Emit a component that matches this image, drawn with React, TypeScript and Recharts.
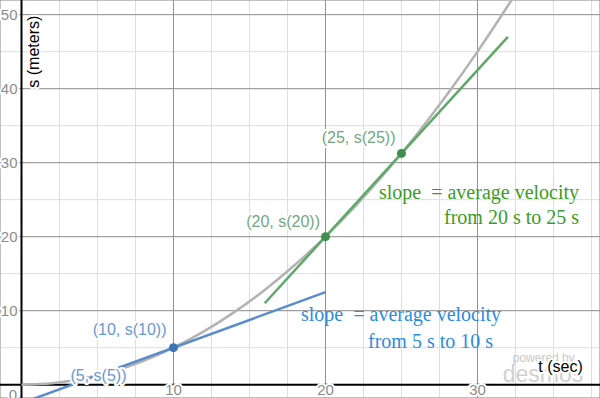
import React from "react";
import {
  ComposedChart,
  Line,
  Scatter,
  XAxis,
  YAxis,
  CartesianGrid,
  ReferenceLine,
  ReferenceDot,
} from "recharts";

// axes / grid
const X_DOMAIN: [number, number] = [-1.414, 38.06];
const Y_DOMAIN: [number, number] = [-1.8, 51.98];
const majorX = [10, 20, 30];
const majorY = [10, 20, 30, 40, 50];
const minorX = [2.5, 5, 7.5, 10, 12.5, 15, 17.5, 20, 22.5, 25, 27.5, 30, 32.5, 35, 37.5];
const minorY = [2.5, 5, 7.5, 10, 12.5, 15, 17.5, 20, 22.5, 25, 27.5, 30, 32.5, 35, 37.5, 40, 42.5, 45, 47.5, 50];

// position curve s(t)
const curveT = [0, 2, 4, 6, 8, 10, 12, 14, 16, 18, 20, 22, 24, 26, 28, 30, 32, 34];
const curveS = [0, 0.2, 0.8, 1.8, 3.2, 5, 7.2, 9.8, 12.8, 16.2, 20, 24.2, 28.8, 33.8, 39.2, 45, 51.2, 57.8];

// secant lines
const blueT = [0, 20];
const blueS = [-2.5, 12.5];
const greenT = [16, 32];
const greenS = [11, 47];

// labelled points
const pointT = [5, 10, 20, 25];
const pointS = [1.25, 5, 20, 31.25];
const pointNames = ["(5, s(5))", "(10, s(10))", "(20, s(20))", "(25, s(25))"];
const blueDotT = [10];
const blueDotS = [5];
const greenDotT = [20, 25];
const greenDotS = [20, 31.25];

const curveData = curveT.map((t, i) => ({ t, s: curveS[i] }));
const blueData = blueT.map((t, i) => ({ t, s: blueS[i] }));
const greenData = greenT.map((t, i) => ({ t, s: greenS[i] }));
const blueDots = blueDotT.map((t, i) => ({ t, s: blueDotS[i] }));
const greenDots = greenDotT.map((t, i) => ({ t, s: greenDotS[i] }));

const SANS = "'Liberation Sans', Arial, sans-serif";
const SERIF = "'Liberation Serif', 'Times New Roman', serif";
const halo = {
  stroke: "#fff",
  strokeWidth: 4,
  strokeLinejoin: "round" as const,
  paintOrder: "stroke" as const,
};

const BLUE_LABEL = "#6898d3";
const GREEN_LABEL = "#72a784";
const labelLook = [
  { anchor: "middle", dx: 1, dy: 6, color: BLUE_LABEL },
  { anchor: "end", dx: -7, dy: -13, color: BLUE_LABEL },
  { anchor: "end", dx: -5.5, dy: -10, color: GREEN_LABEL },
  { anchor: "end", dx: -6, dy: -10.5, color: GREEN_LABEL },
];

const dotShape = (color: string) => (p: any) => (
  <circle cx={p.cx} cy={p.cy} r={4.5} fill={color} />
);

export default function App() {
  return (
    <div style={{ position: "absolute", left: 0, top: 0, width: 600, height: 398, background: "#fff" }}>
      <ComposedChart width={600} height={398} margin={{ top: 0, right: 0, bottom: 0, left: 0 }}>
        <XAxis xAxisId="g" type="number" dataKey="t" domain={X_DOMAIN} ticks={minorX} hide allowDataOverflow />
        <YAxis yAxisId="g" type="number" dataKey="s" domain={Y_DOMAIN} ticks={minorY} hide allowDataOverflow />
        <XAxis type="number" dataKey="t" domain={X_DOMAIN} ticks={majorX} hide allowDataOverflow />
        <YAxis type="number" dataKey="s" domain={Y_DOMAIN} ticks={majorY} hide allowDataOverflow />

        <CartesianGrid xAxisId="g" yAxisId="g" stroke="#dedede" strokeWidth={1} />
        <CartesianGrid stroke="#929292" strokeWidth={1} />
        <ReferenceLine x={0} stroke="#000" strokeWidth={2} />
        <ReferenceLine y={0} stroke="#000" strokeWidth={2} />

        {/* watermark */}
        <ReferenceDot x={32.32} y={3.0} r={0} shape={(p: any) => (
          <text x={p.cx} y={p.cy} fontFamily={SANS} fontSize={12} fill="#c8c8c8">powered by</text>
        )} />
        <ReferenceDot x={31.66} y={0.4} r={0} shape={(p: any) => (
          <text x={p.cx} y={p.cy} fontFamily={SANS} fontSize={23} fill="#d0d0d0">desmos</text>
        )} />

        {/* tick labels */}
        {majorX.map((v) => (
          <ReferenceDot key={"x" + v} x={v} y={0} r={0} shape={(p: any) => (
            <text x={p.cx} y={p.cy + 10} textAnchor="middle" fontFamily={SANS} fontSize={15} fill="#8c8c8c" {...halo}>{v}</text>
          )} />
        ))}
        {majorY.map((v) => (
          <ReferenceDot key={"y" + v} x={0} y={v} r={0} shape={(p: any) => (
            <text x={p.cx - 4} y={p.cy + 5} textAnchor="end" fontFamily={SANS} fontSize={15} fill="#8c8c8c" {...halo}>{v}</text>
          )} />
        ))}
        <ReferenceDot x={0} y={0} r={0} shape={(p: any) => (
          <text x={p.cx - 8.5} y={p.cy + 15} textAnchor="middle" fontFamily={SANS} fontSize={15} fill="#8c8c8c" {...halo}>0</text>
        )} />

        <Line data={curveData} dataKey="s" type="monotone" stroke="#b3b3b3" strokeWidth={2.5} dot={false} activeDot={false} isAnimationActive={false} />
        <Line data={blueData} dataKey="s" type="linear" stroke="#5a8ccb" strokeWidth={2.5} dot={false} activeDot={false} isAnimationActive={false} />
        <Line data={greenData} dataKey="s" type="linear" stroke="#5ea86a" strokeWidth={2.5} dot={false} activeDot={false} isAnimationActive={false} />
        <Scatter data={blueDots} dataKey="s" shape={dotShape("#3b74b8")} isAnimationActive={false} />
        <Scatter data={greenDots} dataKey="s" shape={dotShape("#3f8f4c")} isAnimationActive={false} />

        {/* point labels */}
        {pointT.map((t, i) => (
          <ReferenceDot key={"p" + i} x={t} y={pointS[i]} r={0} shape={(p: any) => (
            <text
              x={p.cx + labelLook[i].dx}
              y={p.cy + labelLook[i].dy}
              textAnchor={labelLook[i].anchor as any}
              fontFamily={SANS}
              fontSize={16}
              fill={labelLook[i].color}
              {...halo}
            >
              {pointNames[i]}
            </text>
          )} />
        ))}

        {/* slope notes */}
        <ReferenceDot x={18.39} y={8.61} r={0} shape={(p: any) => (
          <text x={p.cx} y={p.cy} fontFamily={SERIF} fontSize={20} fill="#2b8de0" style={{ whiteSpace: "pre" }}>slope  = average velocity</text>
        )} />
        <ReferenceDot x={22.8} y={5.0} r={0} shape={(p: any) => (
          <text x={p.cx} y={p.cy} fontFamily={SERIF} fontSize={20} fill="#2b8de0">from 5 s to 10 s</text>
        )} />
        <ReferenceDot x={23.52} y={25.14} r={0} shape={(p: any) => (
          <text x={p.cx} y={p.cy} fontFamily={SERIF} fontSize={20} fill="#3c9c1e" style={{ whiteSpace: "pre" }}>slope  = average velocity</text>
        )} />
        <ReferenceDot x={27.8} y={21.67} r={0} shape={(p: any) => (
          <text x={p.cx} y={p.cy} fontFamily={SERIF} fontSize={20} fill="#3c9c1e">from 20 s to 25 s</text>
        )} />

        {/* axis titles */}
        <ReferenceDot x={1.15} y={45.0} r={0} shape={(p: any) => (
          <text x={p.cx} y={p.cy} transform={`rotate(-90, ${p.cx}, ${p.cy})`} textAnchor="middle" fontFamily={SANS} fontSize={16} fill="#000" {...halo}>s (meters)</text>
        )} />
        <ReferenceDot x={34.0} y={1.72} r={0} shape={(p: any) => (
          <text x={p.cx} y={p.cy} fontFamily={SANS} fontSize={16} fill="#000" {...halo}>t (sec)</text>
        )} />
      </ComposedChart>
    </div>
  );
}
